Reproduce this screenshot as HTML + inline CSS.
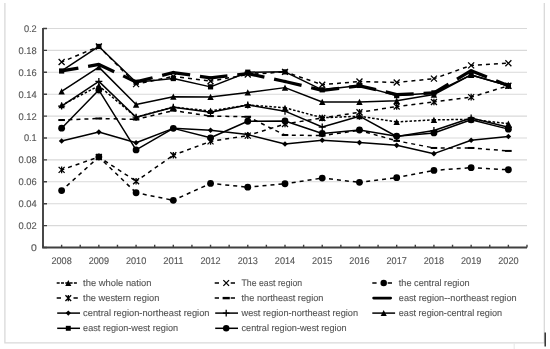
<!DOCTYPE html><html><head><meta charset="utf-8"><style>html,body{margin:0;padding:0;background:#fff;}svg{display:block;}text{text-rendering:geometricPrecision;font-family:"Liberation Sans",Arial,sans-serif;fill:#555555;stroke:#555555;stroke-width:0.12px;}</style></head><body>
<svg width="550" height="349" viewBox="0 0 550 349">
<rect width="550" height="349" fill="#fff"/>
<path d="M4.9 3V342.8H544.3V3" stroke="#d9d9d9" stroke-width="1.3" fill="none"/>
<path d="M545.2 332.4V346.5" stroke="#222" stroke-width="1.4"/>
<path d="M514.2 343.5V349" stroke="#e6e6e6" stroke-width="1"/>
<path d="M43.0 225.60H527.0M43.0 203.70H527.0M43.0 181.80H527.0M43.0 159.90H527.0M43.0 138.00H527.0M43.0 116.10H527.0M43.0 94.20H527.0M43.0 72.30H527.0M43.0 50.40H527.0M43.0 28.50H527.0" stroke="#d9d9d9" stroke-width="1.1" fill="none"/>
<text x="36.7" y="250.95" font-size="9.7" text-anchor="end" textLength="5.80" lengthAdjust="spacingAndGlyphs">0</text>
<text x="36.7" y="229.05" font-size="9.7" text-anchor="end" textLength="18.17" lengthAdjust="spacingAndGlyphs">0.02</text>
<text x="36.7" y="207.15" font-size="9.7" text-anchor="end" textLength="18.17" lengthAdjust="spacingAndGlyphs">0.04</text>
<text x="36.7" y="185.25" font-size="9.7" text-anchor="end" textLength="18.17" lengthAdjust="spacingAndGlyphs">0.06</text>
<text x="36.7" y="163.35" font-size="9.7" text-anchor="end" textLength="18.17" lengthAdjust="spacingAndGlyphs">0.08</text>
<text x="36.7" y="141.45" font-size="9.7" text-anchor="end" textLength="12.82" lengthAdjust="spacingAndGlyphs">0.1</text>
<text x="36.7" y="119.55" font-size="9.7" text-anchor="end" textLength="18.17" lengthAdjust="spacingAndGlyphs">0.12</text>
<text x="36.7" y="97.65" font-size="9.7" text-anchor="end" textLength="18.17" lengthAdjust="spacingAndGlyphs">0.14</text>
<text x="36.7" y="75.75" font-size="9.7" text-anchor="end" textLength="18.17" lengthAdjust="spacingAndGlyphs">0.16</text>
<text x="36.7" y="53.85" font-size="9.7" text-anchor="end" textLength="18.17" lengthAdjust="spacingAndGlyphs">0.18</text>
<text x="36.7" y="31.95" font-size="9.7" text-anchor="end" textLength="12.82" lengthAdjust="spacingAndGlyphs">0.2</text>
<text x="51.49" y="263.7" font-size="9.7" textLength="20.26" lengthAdjust="spacingAndGlyphs">2008</text>
<text x="88.72" y="263.7" font-size="9.7" textLength="20.26" lengthAdjust="spacingAndGlyphs">2009</text>
<text x="125.95" y="263.7" font-size="9.7" textLength="20.26" lengthAdjust="spacingAndGlyphs">2010</text>
<text x="163.18" y="263.7" font-size="9.7" textLength="20.26" lengthAdjust="spacingAndGlyphs">2011</text>
<text x="200.41" y="263.7" font-size="9.7" textLength="20.26" lengthAdjust="spacingAndGlyphs">2012</text>
<text x="237.64" y="263.7" font-size="9.7" textLength="20.26" lengthAdjust="spacingAndGlyphs">2013</text>
<text x="274.87" y="263.7" font-size="9.7" textLength="20.26" lengthAdjust="spacingAndGlyphs">2014</text>
<text x="312.10" y="263.7" font-size="9.7" textLength="20.26" lengthAdjust="spacingAndGlyphs">2015</text>
<text x="349.33" y="263.7" font-size="9.7" textLength="20.26" lengthAdjust="spacingAndGlyphs">2016</text>
<text x="386.56" y="263.7" font-size="9.7" textLength="20.26" lengthAdjust="spacingAndGlyphs">2017</text>
<text x="423.80" y="263.7" font-size="9.7" textLength="20.26" lengthAdjust="spacingAndGlyphs">2018</text>
<text x="461.03" y="263.7" font-size="9.7" textLength="20.26" lengthAdjust="spacingAndGlyphs">2019</text>
<text x="498.26" y="263.7" font-size="9.7" textLength="20.26" lengthAdjust="spacingAndGlyphs">2020</text>
<path d="M43.0 247.50H47M43.0 225.60H47M43.0 203.70H47M43.0 181.80H47M43.0 159.90H47M43.0 138.00H47M43.0 116.10H47M43.0 94.20H47M43.0 72.30H47M43.0 50.40H47M43.0 28.50H47M43.00 247.50V244.70M61.62 247.50V244.70M80.23 247.50V244.70M98.85 247.50V244.70M117.46 247.50V244.70M136.08 247.50V244.70M154.69 247.50V244.70M173.31 247.50V244.70M191.92 247.50V244.70M210.54 247.50V244.70M229.15 247.50V244.70M247.77 247.50V244.70M266.38 247.50V244.70M285.00 247.50V244.70M303.62 247.50V244.70M322.23 247.50V244.70M340.85 247.50V244.70M359.46 247.50V244.70M378.08 247.50V244.70M396.69 247.50V244.70M415.31 247.50V244.70M433.92 247.50V244.70M452.54 247.50V244.70M471.15 247.50V244.70M489.77 247.50V244.70M508.38 247.50V244.70M527.00 247.50V244.70" stroke="#404040" stroke-width="1.4" fill="none"/>
<path d="M43.0 28.00V247.50H527.0" stroke="#404040" stroke-width="1.9" fill="none"/>
<g stroke="#000" stroke-width="1.5" stroke-dasharray="2.55 1.85" stroke-dashoffset="0.4" fill="none"><line x1="61.62" y1="105.15" x2="98.85" y2="85.77"/><line x1="98.85" y1="85.77" x2="136.08" y2="117.19"/><line x1="136.08" y1="117.19" x2="173.31" y2="107.12"/><line x1="173.31" y1="107.12" x2="210.54" y2="110.95"/><line x1="210.54" y1="110.95" x2="247.77" y2="104.93"/><line x1="247.77" y1="104.93" x2="285.00" y2="107.78"/><line x1="285.00" y1="107.78" x2="322.23" y2="117.74"/><line x1="322.23" y1="117.74" x2="359.46" y2="116.21"/><line x1="359.46" y1="116.21" x2="396.69" y2="121.90"/><line x1="396.69" y1="121.90" x2="433.92" y2="119.82"/><line x1="433.92" y1="119.82" x2="471.15" y2="119.39"/><line x1="471.15" y1="119.39" x2="508.38" y2="123.66"/></g>
<path d="M61.62 102.00L64.82 108.30L58.42 108.30Z" fill="#000"/>
<path d="M98.85 82.62L102.05 88.92L95.65 88.92Z" fill="#000"/>
<path d="M136.08 114.04L139.28 120.34L132.88 120.34Z" fill="#000"/>
<path d="M173.31 103.97L176.51 110.27L170.11 110.27Z" fill="#000"/>
<path d="M210.54 107.80L213.74 114.10L207.34 114.10Z" fill="#000"/>
<path d="M247.77 101.78L250.97 108.08L244.57 108.08Z" fill="#000"/>
<path d="M285.00 104.63L288.20 110.93L281.80 110.93Z" fill="#000"/>
<path d="M322.23 114.59L325.43 120.89L319.03 120.89Z" fill="#000"/>
<path d="M359.46 113.06L362.66 119.36L356.26 119.36Z" fill="#000"/>
<path d="M396.69 118.75L399.89 125.05L393.49 125.05Z" fill="#000"/>
<path d="M433.92 116.67L437.12 122.97L430.72 122.97Z" fill="#000"/>
<path d="M471.15 116.24L474.35 122.54L467.95 122.54Z" fill="#000"/>
<path d="M508.38 120.51L511.58 126.81L505.18 126.81Z" fill="#000"/>
<g stroke="#000" stroke-width="1.5" stroke-dasharray="4 4" stroke-dashoffset="1.2" fill="none"><line x1="61.62" y1="62.01" x2="98.85" y2="46.46"/><line x1="98.85" y1="46.46" x2="136.08" y2="84.13"/><line x1="136.08" y1="84.13" x2="173.31" y2="76.46"/><line x1="173.31" y1="76.46" x2="210.54" y2="81.17"/><line x1="210.54" y1="81.17" x2="247.77" y2="74.49"/><line x1="247.77" y1="74.49" x2="285.00" y2="71.86"/><line x1="285.00" y1="71.86" x2="322.23" y2="84.67"/><line x1="322.23" y1="84.67" x2="359.46" y2="81.50"/><line x1="359.46" y1="81.50" x2="396.69" y2="82.48"/><line x1="396.69" y1="82.48" x2="433.92" y2="78.65"/><line x1="433.92" y1="78.65" x2="471.15" y2="65.40"/><line x1="471.15" y1="65.40" x2="508.38" y2="63.21"/></g>
<path d="M58.62 59.01L64.62 65.01M64.62 59.01L58.62 65.01" stroke="#000" stroke-width="1.3" fill="none"/>
<path d="M95.85 43.46L101.85 49.46M101.85 43.46L95.85 49.46" stroke="#000" stroke-width="1.3" fill="none"/>
<path d="M133.08 81.13L139.08 87.13M139.08 81.13L133.08 87.13" stroke="#000" stroke-width="1.3" fill="none"/>
<path d="M170.31 73.46L176.31 79.46M176.31 73.46L170.31 79.46" stroke="#000" stroke-width="1.3" fill="none"/>
<path d="M207.54 78.17L213.54 84.17M213.54 78.17L207.54 84.17" stroke="#000" stroke-width="1.3" fill="none"/>
<path d="M244.77 71.49L250.77 77.49M250.77 71.49L244.77 77.49" stroke="#000" stroke-width="1.3" fill="none"/>
<path d="M282.00 68.86L288.00 74.86M288.00 68.86L282.00 74.86" stroke="#000" stroke-width="1.3" fill="none"/>
<path d="M319.23 81.67L325.23 87.67M325.23 81.67L319.23 87.67" stroke="#000" stroke-width="1.3" fill="none"/>
<path d="M356.46 78.50L362.46 84.50M362.46 78.50L356.46 84.50" stroke="#000" stroke-width="1.3" fill="none"/>
<path d="M393.69 79.48L399.69 85.48M399.69 79.48L393.69 85.48" stroke="#000" stroke-width="1.3" fill="none"/>
<path d="M430.92 75.65L436.92 81.65M436.92 75.65L430.92 81.65" stroke="#000" stroke-width="1.3" fill="none"/>
<path d="M468.15 62.40L474.15 68.40M474.15 62.40L468.15 68.40" stroke="#000" stroke-width="1.3" fill="none"/>
<path d="M505.38 60.21L511.38 66.21M511.38 60.21L505.38 66.21" stroke="#000" stroke-width="1.3" fill="none"/>
<g stroke="#000" stroke-width="1.5" stroke-dasharray="4 4" stroke-dashoffset="1.2" fill="none"><line x1="61.62" y1="190.56" x2="98.85" y2="156.94"/><line x1="98.85" y1="156.94" x2="136.08" y2="192.75"/><line x1="136.08" y1="192.75" x2="173.31" y2="200.31"/><line x1="173.31" y1="200.31" x2="210.54" y2="183.44"/><line x1="210.54" y1="183.44" x2="247.77" y2="187.17"/><line x1="247.77" y1="187.17" x2="285.00" y2="183.77"/><line x1="285.00" y1="183.77" x2="322.23" y2="178.08"/><line x1="322.23" y1="178.08" x2="359.46" y2="182.35"/><line x1="359.46" y1="182.35" x2="396.69" y2="177.64"/><line x1="396.69" y1="177.64" x2="433.92" y2="170.41"/><line x1="433.92" y1="170.41" x2="471.15" y2="167.67"/><line x1="471.15" y1="167.67" x2="508.38" y2="169.75"/></g>
<circle cx="61.62" cy="190.56" r="3.40" fill="#000"/>
<circle cx="98.85" cy="156.94" r="3.40" fill="#000"/>
<circle cx="136.08" cy="192.75" r="3.40" fill="#000"/>
<circle cx="173.31" cy="200.31" r="3.40" fill="#000"/>
<circle cx="210.54" cy="183.44" r="3.40" fill="#000"/>
<circle cx="247.77" cy="187.17" r="3.40" fill="#000"/>
<circle cx="285.00" cy="183.77" r="3.40" fill="#000"/>
<circle cx="322.23" cy="178.08" r="3.40" fill="#000"/>
<circle cx="359.46" cy="182.35" r="3.40" fill="#000"/>
<circle cx="396.69" cy="177.64" r="3.40" fill="#000"/>
<circle cx="433.92" cy="170.41" r="3.40" fill="#000"/>
<circle cx="471.15" cy="167.67" r="3.40" fill="#000"/>
<circle cx="508.38" cy="169.75" r="3.40" fill="#000"/>
<g stroke="#000" stroke-width="1.5" stroke-dasharray="4 4" stroke-dashoffset="1.2" fill="none"><line x1="61.62" y1="169.86" x2="98.85" y2="156.94"/><line x1="98.85" y1="156.94" x2="136.08" y2="181.25"/><line x1="136.08" y1="181.25" x2="173.31" y2="155.19"/><line x1="173.31" y1="155.19" x2="210.54" y2="141.39"/><line x1="210.54" y1="141.39" x2="247.77" y2="135.59"/><line x1="247.77" y1="135.59" x2="285.00" y2="123.98"/><line x1="285.00" y1="123.98" x2="322.23" y2="117.96"/><line x1="322.23" y1="117.96" x2="359.46" y2="112.27"/><line x1="359.46" y1="112.27" x2="396.69" y2="106.57"/><line x1="396.69" y1="106.57" x2="433.92" y2="101.97"/><line x1="433.92" y1="101.97" x2="471.15" y2="97.16"/><line x1="471.15" y1="97.16" x2="508.38" y2="85.77"/></g>
<path d="M58.62 166.86L64.62 172.86M64.62 166.86L58.62 172.86M61.62 166.56L61.62 173.16" stroke="#000" stroke-width="1.3" fill="none"/>
<path d="M95.85 153.94L101.85 159.94M101.85 153.94L95.85 159.94M98.85 153.64L98.85 160.24" stroke="#000" stroke-width="1.3" fill="none"/>
<path d="M133.08 178.25L139.08 184.25M139.08 178.25L133.08 184.25M136.08 177.95L136.08 184.55" stroke="#000" stroke-width="1.3" fill="none"/>
<path d="M170.31 152.19L176.31 158.19M176.31 152.19L170.31 158.19M173.31 151.89L173.31 158.49" stroke="#000" stroke-width="1.3" fill="none"/>
<path d="M207.54 138.39L213.54 144.39M213.54 138.39L207.54 144.39M210.54 138.09L210.54 144.69" stroke="#000" stroke-width="1.3" fill="none"/>
<path d="M244.77 132.59L250.77 138.59M250.77 132.59L244.77 138.59M247.77 132.29L247.77 138.89" stroke="#000" stroke-width="1.3" fill="none"/>
<path d="M282.00 120.98L288.00 126.98M288.00 120.98L282.00 126.98M285.00 120.68L285.00 127.28" stroke="#000" stroke-width="1.3" fill="none"/>
<path d="M319.23 114.96L325.23 120.96M325.23 114.96L319.23 120.96M322.23 114.66L322.23 121.26" stroke="#000" stroke-width="1.3" fill="none"/>
<path d="M356.46 109.27L362.46 115.27M362.46 109.27L356.46 115.27M359.46 108.97L359.46 115.57" stroke="#000" stroke-width="1.3" fill="none"/>
<path d="M393.69 103.57L399.69 109.57M399.69 103.57L393.69 109.57M396.69 103.27L396.69 109.87" stroke="#000" stroke-width="1.3" fill="none"/>
<path d="M430.92 98.97L436.92 104.97M436.92 98.97L430.92 104.97M433.92 98.67L433.92 105.27" stroke="#000" stroke-width="1.3" fill="none"/>
<path d="M468.15 94.16L474.15 100.16M474.15 94.16L468.15 100.16M471.15 93.86L471.15 100.46" stroke="#000" stroke-width="1.3" fill="none"/>
<path d="M505.38 82.77L511.38 88.77M511.38 82.77L505.38 88.77M508.38 82.47L508.38 89.07" stroke="#000" stroke-width="1.3" fill="none"/>
<g stroke="#000" stroke-width="1.5" stroke-dasharray="4 4" stroke-dashoffset="1.2" fill="none"><line x1="61.62" y1="120.04" x2="98.85" y2="118.51"/><line x1="98.85" y1="118.51" x2="136.08" y2="119.39"/><line x1="136.08" y1="119.39" x2="173.31" y2="110.62"/><line x1="173.31" y1="110.62" x2="210.54" y2="116.10"/><line x1="210.54" y1="116.10" x2="247.77" y2="116.76"/><line x1="247.77" y1="116.76" x2="285.00" y2="135.04"/><line x1="285.00" y1="135.04" x2="322.23" y2="135.59"/><line x1="322.23" y1="135.59" x2="359.46" y2="130.34"/><line x1="359.46" y1="130.34" x2="396.69" y2="140.85"/><line x1="396.69" y1="140.85" x2="433.92" y2="147.96"/><line x1="433.92" y1="147.96" x2="471.15" y2="147.96"/><line x1="471.15" y1="147.96" x2="508.38" y2="150.92"/></g>
<rect x="58.32" y="119.04" width="6.60" height="2" fill="#000"/>
<rect x="95.55" y="117.51" width="6.60" height="2" fill="#000"/>
<rect x="132.78" y="118.39" width="6.60" height="2" fill="#000"/>
<rect x="170.01" y="109.62" width="6.60" height="2" fill="#000"/>
<rect x="207.24" y="115.10" width="6.60" height="2" fill="#000"/>
<rect x="244.47" y="115.76" width="6.60" height="2" fill="#000"/>
<rect x="281.70" y="134.04" width="6.60" height="2" fill="#000"/>
<rect x="318.93" y="134.59" width="6.60" height="2" fill="#000"/>
<rect x="356.16" y="129.34" width="6.60" height="2" fill="#000"/>
<rect x="393.39" y="139.85" width="6.60" height="2" fill="#000"/>
<rect x="430.62" y="146.96" width="6.60" height="2" fill="#000"/>
<rect x="467.85" y="146.96" width="6.60" height="2" fill="#000"/>
<rect x="505.08" y="149.92" width="6.60" height="2" fill="#000"/>
<g stroke="#000" stroke-width="3.3" stroke-dasharray="26.4 9.9" stroke-dashoffset="9.4" fill="none"><line x1="61.62" y1="70.99" x2="98.85" y2="64.42"/><line x1="98.85" y1="64.42" x2="136.08" y2="81.94"/><line x1="136.08" y1="81.94" x2="173.31" y2="72.52"/><line x1="173.31" y1="72.52" x2="210.54" y2="77.78"/><line x1="210.54" y1="77.78" x2="247.77" y2="73.61"/><line x1="247.77" y1="73.61" x2="285.00" y2="81.50"/><line x1="285.00" y1="81.50" x2="322.23" y2="90.37"/><line x1="322.23" y1="90.37" x2="359.46" y2="85.88"/><line x1="359.46" y1="85.88" x2="396.69" y2="94.53"/><line x1="396.69" y1="94.53" x2="433.92" y2="92.89"/><line x1="433.92" y1="92.89" x2="471.15" y2="70.66"/><line x1="471.15" y1="70.66" x2="508.38" y2="85.66"/></g>
<g fill="#000"><circle cx="98.85" cy="64.42" r="1.65"/><circle cx="136.08" cy="81.94" r="1.65"/><circle cx="173.31" cy="72.52" r="1.65"/><circle cx="210.54" cy="77.78" r="1.65"/><circle cx="247.77" cy="73.61" r="1.65"/><circle cx="285.00" cy="81.50" r="1.65"/><circle cx="322.23" cy="90.37" r="1.65"/><circle cx="359.46" cy="85.88" r="1.65"/><circle cx="396.69" cy="94.53" r="1.65"/><circle cx="433.92" cy="92.89" r="1.65"/><circle cx="471.15" cy="70.66" r="1.65"/></g>
<polyline points="61.62,141.07 98.85,132.09 136.08,142.71 173.31,128.36 210.54,130.23 247.77,134.61 285.00,144.02 322.23,140.19 359.46,142.60 396.69,145.34 433.92,153.66 471.15,140.19 508.38,136.47" fill="none" stroke="#000" stroke-width="1.5" stroke-linejoin="round"/>
<path d="M61.62 138.27L64.42 141.07L61.62 143.87L58.82 141.07Z" fill="#000"/>
<path d="M98.85 129.29L101.65 132.09L98.85 134.89L96.05 132.09Z" fill="#000"/>
<path d="M136.08 139.91L138.88 142.71L136.08 145.51L133.28 142.71Z" fill="#000"/>
<path d="M173.31 125.56L176.11 128.36L173.31 131.16L170.51 128.36Z" fill="#000"/>
<path d="M210.54 127.43L213.34 130.23L210.54 133.03L207.74 130.23Z" fill="#000"/>
<path d="M247.77 131.81L250.57 134.61L247.77 137.41L244.97 134.61Z" fill="#000"/>
<path d="M285.00 141.22L287.80 144.02L285.00 146.82L282.20 144.02Z" fill="#000"/>
<path d="M322.23 137.39L325.03 140.19L322.23 142.99L319.43 140.19Z" fill="#000"/>
<path d="M359.46 139.80L362.26 142.60L359.46 145.40L356.66 142.60Z" fill="#000"/>
<path d="M396.69 142.54L399.49 145.34L396.69 148.14L393.89 145.34Z" fill="#000"/>
<path d="M433.92 150.86L436.72 153.66L433.92 156.46L431.12 153.66Z" fill="#000"/>
<path d="M471.15 137.39L473.95 140.19L471.15 142.99L468.35 140.19Z" fill="#000"/>
<path d="M508.38 133.67L511.18 136.47L508.38 139.27L505.58 136.47Z" fill="#000"/>
<polyline points="61.62,106.03 98.85,81.39 136.08,117.19 173.31,107.34 210.54,112.27 247.77,104.93 285.00,111.17 322.23,127.05 359.46,116.21 396.69,136.47 433.92,130.55 471.15,117.96 508.38,127.27" fill="none" stroke="#000" stroke-width="1.5" stroke-linejoin="round"/>
<path d="M58.12 106.03L65.12 106.03M61.62 102.53L61.62 109.53" stroke="#000" stroke-width="1.3" fill="none"/>
<path d="M95.35 81.39L102.35 81.39M98.85 77.89L98.85 84.89" stroke="#000" stroke-width="1.3" fill="none"/>
<path d="M132.58 117.19L139.58 117.19M136.08 113.69L136.08 120.69" stroke="#000" stroke-width="1.3" fill="none"/>
<path d="M169.81 107.34L176.81 107.34M173.31 103.84L173.31 110.84" stroke="#000" stroke-width="1.3" fill="none"/>
<path d="M207.04 112.27L214.04 112.27M210.54 108.77L210.54 115.77" stroke="#000" stroke-width="1.3" fill="none"/>
<path d="M244.27 104.93L251.27 104.93M247.77 101.43L247.77 108.43" stroke="#000" stroke-width="1.3" fill="none"/>
<path d="M281.50 111.17L288.50 111.17M285.00 107.67L285.00 114.67" stroke="#000" stroke-width="1.3" fill="none"/>
<path d="M318.73 127.05L325.73 127.05M322.23 123.55L322.23 130.55" stroke="#000" stroke-width="1.3" fill="none"/>
<path d="M355.96 116.21L362.96 116.21M359.46 112.71L359.46 119.71" stroke="#000" stroke-width="1.3" fill="none"/>
<path d="M393.19 136.47L400.19 136.47M396.69 132.97L396.69 139.97" stroke="#000" stroke-width="1.3" fill="none"/>
<path d="M430.42 130.55L437.42 130.55M433.92 127.05L433.92 134.05" stroke="#000" stroke-width="1.3" fill="none"/>
<path d="M467.65 117.96L474.65 117.96M471.15 114.46L471.15 121.46" stroke="#000" stroke-width="1.3" fill="none"/>
<path d="M504.88 127.27L511.88 127.27M508.38 123.77L508.38 130.77" stroke="#000" stroke-width="1.3" fill="none"/>
<polyline points="61.62,91.46 98.85,67.15 136.08,104.49 173.31,96.72 210.54,96.94 247.77,92.45 285.00,87.63 322.23,101.97 359.46,101.97 396.69,100.77 433.92,94.53 471.15,74.93 508.38,85.66" fill="none" stroke="#000" stroke-width="1.5" stroke-linejoin="round"/>
<path d="M61.62 88.31L64.82 94.61L58.42 94.61Z" fill="#000"/>
<path d="M98.85 64.00L102.05 70.30L95.65 70.30Z" fill="#000"/>
<path d="M136.08 101.34L139.28 107.64L132.88 107.64Z" fill="#000"/>
<path d="M173.31 93.57L176.51 99.87L170.11 99.87Z" fill="#000"/>
<path d="M210.54 93.79L213.74 100.09L207.34 100.09Z" fill="#000"/>
<path d="M247.77 89.30L250.97 95.60L244.57 95.60Z" fill="#000"/>
<path d="M285.00 84.48L288.20 90.78L281.80 90.78Z" fill="#000"/>
<path d="M322.23 98.82L325.43 105.12L319.03 105.12Z" fill="#000"/>
<path d="M359.46 98.82L362.66 105.12L356.26 105.12Z" fill="#000"/>
<path d="M396.69 97.62L399.89 103.92L393.49 103.92Z" fill="#000"/>
<path d="M433.92 91.38L437.12 97.68L430.72 97.68Z" fill="#000"/>
<path d="M471.15 71.78L474.35 78.08L467.95 78.08Z" fill="#000"/>
<path d="M508.38 82.51L511.58 88.81L505.18 88.81Z" fill="#000"/>
<polyline points="61.62,70.99 98.85,46.46 136.08,82.26 173.31,78.54 210.54,86.86 247.77,72.19 285.00,71.86 322.23,89.82 359.46,85.44 396.69,95.62 433.92,92.89 471.15,74.93 508.38,85.66" fill="none" stroke="#000" stroke-width="1.5" stroke-linejoin="round"/>
<rect x="59.02" y="68.39" width="5.20" height="5.20" fill="#000"/>
<rect x="96.25" y="43.86" width="5.20" height="5.20" fill="#000"/>
<rect x="133.48" y="79.66" width="5.20" height="5.20" fill="#000"/>
<rect x="170.71" y="75.94" width="5.20" height="5.20" fill="#000"/>
<rect x="207.94" y="84.26" width="5.20" height="5.20" fill="#000"/>
<rect x="245.17" y="69.59" width="5.20" height="5.20" fill="#000"/>
<rect x="282.40" y="69.26" width="5.20" height="5.20" fill="#000"/>
<rect x="319.63" y="87.22" width="5.20" height="5.20" fill="#000"/>
<rect x="356.86" y="82.84" width="5.20" height="5.20" fill="#000"/>
<rect x="394.09" y="93.02" width="5.20" height="5.20" fill="#000"/>
<rect x="431.32" y="90.29" width="5.20" height="5.20" fill="#000"/>
<rect x="468.55" y="72.33" width="5.20" height="5.20" fill="#000"/>
<rect x="505.78" y="83.06" width="5.20" height="5.20" fill="#000"/>
<polyline points="61.62,128.15 98.85,90.04 136.08,149.94 173.31,128.36 210.54,137.78 247.77,121.25 285.00,120.92 322.23,133.51 359.46,130.01 396.69,136.25 433.92,132.96 471.15,119.82 508.38,129.13" fill="none" stroke="#000" stroke-width="1.5" stroke-linejoin="round"/>
<circle cx="61.62" cy="128.15" r="3.40" fill="#000"/>
<circle cx="98.85" cy="90.04" r="3.40" fill="#000"/>
<circle cx="136.08" cy="149.94" r="3.40" fill="#000"/>
<circle cx="173.31" cy="128.36" r="3.40" fill="#000"/>
<circle cx="210.54" cy="137.78" r="3.40" fill="#000"/>
<circle cx="247.77" cy="121.25" r="3.40" fill="#000"/>
<circle cx="285.00" cy="120.92" r="3.40" fill="#000"/>
<circle cx="322.23" cy="133.51" r="3.40" fill="#000"/>
<circle cx="359.46" cy="130.01" r="3.40" fill="#000"/>
<circle cx="396.69" cy="136.25" r="3.40" fill="#000"/>
<circle cx="433.92" cy="132.96" r="3.40" fill="#000"/>
<circle cx="471.15" cy="119.82" r="3.40" fill="#000"/>
<circle cx="508.38" cy="129.13" r="3.40" fill="#000"/>
<path d="M56.7 283.0H77.8" stroke="#000" stroke-width="1.5" stroke-dasharray="3 1.3"/>
<path d="M68.30 280.01L71.34 285.99L65.26 285.99Z" fill="#000"/>
<text x="83.1" y="286.0" font-size="9.3" textLength="68.4" lengthAdjust="spacingAndGlyphs">the whole nation</text>
<path d="M56.7 298.1h4.3M73.5 298.1H77.8" stroke="#000" stroke-width="1.5"/>
<path d="M65.45 295.25L71.15 300.95M71.15 295.25L65.45 300.95M68.30 294.95L68.30 301.25" stroke="#000" stroke-width="1.3" fill="none"/>
<text x="83.1" y="301.1" font-size="9.3" textLength="76.2" lengthAdjust="spacingAndGlyphs">the western region</text>
<path d="M57.2 313.1H80.0" stroke="#000" stroke-width="1.5"/>
<path d="M68.30 310.44L70.96 313.10L68.30 315.76L65.64 313.10Z" fill="#000"/>
<text x="83.1" y="316.1" font-size="9.3" textLength="126.4" lengthAdjust="spacingAndGlyphs">central region-northeast region</text>
<path d="M57.2 328.3H80.0" stroke="#000" stroke-width="1.5"/>
<rect x="65.83" y="325.83" width="4.94" height="4.94" fill="#000"/>
<text x="83.1" y="331.3" font-size="9.3" textLength="95.0" lengthAdjust="spacingAndGlyphs">east region-west region</text>
<path d="M214.7 283.0h4.3M230.7 283.0H235.0" stroke="#000" stroke-width="1.5"/>
<path d="M223.35 280.15L229.05 285.85M229.05 280.15L223.35 285.85" stroke="#000" stroke-width="1.3" fill="none"/>
<text x="241.5" y="286.0" font-size="9.3" textLength="60.7" lengthAdjust="spacingAndGlyphs">The east region</text>
<path d="M214.7 298.1h4.3M230.7 298.1H235.0" stroke="#000" stroke-width="1.5"/>
<rect x="222.60" y="296.90" width="7.2" height="2.4" fill="#000"/>
<text x="241.5" y="301.1" font-size="9.3" textLength="82.0" lengthAdjust="spacingAndGlyphs">the northeast region</text>
<path d="M215.2 313.1H238.0" stroke="#000" stroke-width="1.5"/>
<path d="M222.88 313.10L229.52 313.10M226.20 309.78L226.20 316.43" stroke="#000" stroke-width="1.3" fill="none"/>
<text x="241.5" y="316.1" font-size="9.3" textLength="116.6" lengthAdjust="spacingAndGlyphs">west region-northeast region</text>
<path d="M215.2 328.3H238.0" stroke="#000" stroke-width="1.5"/>
<circle cx="226.20" cy="328.30" r="3.23" fill="#000"/>
<text x="241.5" y="331.3" font-size="9.3" textLength="105.2" lengthAdjust="spacingAndGlyphs">central region-west region</text>
<path d="M372.3 283.0h4.3M387.7 283.0H392.0" stroke="#000" stroke-width="1.5"/>
<circle cx="383.70" cy="283.00" r="3.23" fill="#000"/>
<text x="398.8" y="286.0" font-size="9.3" textLength="70.8" lengthAdjust="spacingAndGlyphs">the central region</text>
<path d="M373.6 298.1H390.7" stroke="#000" stroke-width="2.7" stroke-linecap="round"/>
<text x="398.8" y="301.1" font-size="9.3" textLength="117.8" lengthAdjust="spacingAndGlyphs">east region--northeast region</text>
<path d="M372.3 313.1H395.1" stroke="#000" stroke-width="1.5"/>
<path d="M383.70 310.11L386.74 316.09L380.66 316.09Z" fill="#000"/>
<text x="398.8" y="316.1" font-size="9.3" textLength="103.3" lengthAdjust="spacingAndGlyphs">east region-central region</text>
</svg></body></html>
